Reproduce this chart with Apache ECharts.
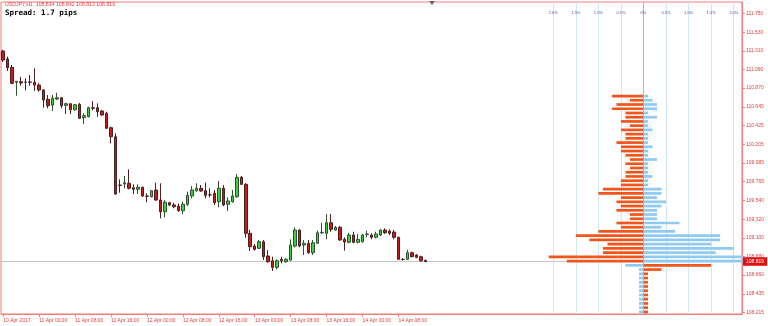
<!DOCTYPE html>
<html><head><meta charset="utf-8">
<script src="https://cdn.jsdelivr.net/npm/echarts@6/dist/echarts.min.js"></script>
<style>html,body{margin:0;padding:0;background:#fff}#c{width:768px;height:326px}</style>
</head><body><div id="c"></div>
<script>
// ---- data ----
const symbolTitle = 'USDJPY,H1  108.834 108.842 108.813 108.819';
const spreadText = 'Spread: 1.7 pips';
const currentPrice = 108.819;
const startTime = {day: 10, hour: 16};
const candleCount = 95;
const blankSlots = 70;
const timeTickLabels = ['10 Apr 2017','11 Apr 00:00','11 Apr 08:00','11 Apr 16:00','12 Apr 00:00','12 Apr 08:00','12 Apr 16:00','13 Apr 00:00','13 Apr 08:00','13 Apr 16:00','14 Apr 00:00','14 Apr 08:00'];
const priceTickLabels = ['111.750','111.530','111.310','111.090','110.870','110.645','110.425','110.205','109.985','109.765','109.540','109.320','109.100','108.880','108.660','108.435','108.215'];
const open = [111.307,111.212,111.114,110.937,110.944,110.941,110.941,110.937,110.905,110.846,110.736,110.669,110.740,110.755,110.665,110.684,110.613,110.677,110.519,110.531,110.637,110.637,110.598,110.571,110.401,110.294,109.724,109.736,109.744,109.692,109.673,109.697,109.594,109.585,109.665,109.547,109.408,109.515,109.488,109.476,109.420,109.496,109.594,109.656,109.685,109.656,109.609,109.626,109.527,109.685,109.496,109.527,109.585,109.815,109.732,109.153,109.003,108.976,109.054,108.885,108.829,108.751,108.846,108.818,108.838,109.003,109.192,109.015,109.035,108.924,109.035,109.160,109.153,109.278,109.192,109.224,109.082,109.047,109.133,109.047,109.054,109.141,109.133,109.106,109.133,109.192,109.180,109.168,109.106,108.846,108.846,108.924,108.897,108.877,108.834];
const high = [111.322,111.240,111.142,110.953,111.003,110.984,111.023,111.102,110.925,110.854,110.787,110.787,110.814,110.758,110.696,110.693,110.681,110.693,110.571,110.649,110.716,110.689,110.610,110.590,110.413,110.335,109.791,109.830,109.909,109.732,109.732,109.704,109.626,109.665,109.751,109.744,109.547,109.527,109.515,109.507,109.527,109.645,109.712,109.744,109.724,109.751,109.685,109.665,109.771,109.724,109.578,109.665,109.854,109.830,109.747,109.192,109.027,109.074,109.074,108.956,108.877,108.846,108.877,108.858,109.082,109.224,109.200,109.074,109.074,109.074,109.184,109.278,109.381,109.381,109.239,109.239,109.106,109.160,109.172,109.145,109.145,109.184,109.153,109.172,109.200,109.212,109.200,109.192,109.113,108.861,108.956,108.936,108.908,108.889,108.842];
const low = [111.177,111.071,110.914,110.779,110.897,110.843,110.897,110.834,110.826,110.637,110.630,110.598,110.728,110.630,110.563,110.559,110.602,110.503,110.444,110.524,110.606,110.531,110.543,110.385,110.216,109.609,109.633,109.685,109.673,109.617,109.617,109.582,109.519,109.578,109.535,109.330,109.342,109.476,109.449,109.408,109.378,109.476,109.567,109.645,109.645,109.567,109.578,109.488,109.460,109.476,109.416,109.515,109.574,109.724,109.101,108.944,108.948,108.968,108.838,108.806,108.708,108.728,108.799,108.806,108.829,108.988,108.988,108.897,108.908,108.897,109.027,109.145,109.082,109.172,109.184,109.066,108.948,109.035,109.035,109.035,109.042,109.106,109.082,109.094,109.121,109.145,109.133,109.082,108.838,108.832,108.838,108.870,108.858,108.818,108.813];
const close = [111.201,111.110,110.925,110.949,110.929,110.939,110.937,110.905,110.846,110.728,110.661,110.748,110.755,110.661,110.684,110.613,110.672,110.512,110.543,110.637,110.630,110.590,110.551,110.394,110.294,109.617,109.718,109.751,109.685,109.673,109.697,109.594,109.590,109.656,109.547,109.408,109.519,109.488,109.467,109.420,109.496,109.602,109.665,109.685,109.653,109.602,109.607,109.515,109.685,109.488,109.535,109.594,109.815,109.732,109.153,108.995,108.964,109.054,108.877,108.818,108.751,108.829,108.829,108.846,109.015,109.192,109.003,109.035,108.924,109.042,109.160,109.165,109.278,109.200,109.224,109.074,109.050,109.133,109.047,109.082,109.133,109.145,109.106,109.145,109.192,109.160,109.153,109.106,108.846,108.844,108.924,108.877,108.870,108.829,108.819];
// order-book style histogram (percent), one row per price level
const levels = [110.775,110.725,110.675,110.625,110.575,110.525,110.475,110.425,110.375,110.325,110.275,110.225,110.175,110.125,110.075,110.025,109.975,109.925,109.875,109.825,109.775,109.725,109.675,109.625,109.575,109.525,109.475,109.425,109.375,109.325,109.275,109.225,109.175,109.125,109.075,109.025,108.975,108.925,108.875,108.825,108.775,108.725,108.675,108.625,108.575,108.525,108.475,108.425,108.375,108.325,108.275,108.225];
const orangePct = [-0.7,-0.3,-0.6,-0.7,-0.4,-0.4,-0.5,-0.3,-0.5,-0.4,-0.4,-0.6,-0.5,-0.5,-0.4,-0.3,-0.4,-0.3,-0.4,-0.4,-0.5,-0.5,-0.9,-1.0,-0.5,-0.6,-0.5,-0.6,-0.3,-0.3,-0.6,-0.5,-1.0,-1.5,-1.2,-0.8,-0.9,-0.9,-2.1,-1.7,1.5,0.4,0.1,0.1,0.1,0.1,0.1,0.1,0.1,0.1,0.1,0.1];
const bluePct = [0.1,0.2,0.3,0.3,0.1,0.3,0.1,0.1,0.2,0.1,0.1,0.1,0.2,0.1,0.1,0.3,0.1,0.1,0.1,0.2,0.1,0.1,0.4,0.4,0.3,0.5,0.4,0.3,0.3,0.3,0.8,0.4,0.7,1.7,1.7,1.5,2.0,1.6,2.2,2.2,-0.4,-0.1,-0.1,-0.1,-0.1,-0.1,-0.1,-0.1,-0.1,-0.1,-0.1,-0.1];

// ---- build ----
const months = 'Apr';
const categories = [];
for (let i = 0; i < candleCount + blankSlots; i++) {
  if (i < candleCount) {
    const h = startTime.hour + i;
    const d = startTime.day + Math.floor(h / 24);
    const hh = h % 24;
    categories.push(d + ' ' + months + ' ' + (hh < 10 ? '0' : '') + hh + ':00');
  } else categories.push('');
}
const candleData = open.map((o, i) => [o, close[i], low[i], high[i]]);
const RED = '#e23c3c';
const FRAME = '#f07c7c';
const showTime = (idx) => idx % 8 === 0 && idx < candleCount;

function hBar(params, api) {
  const v = api.value(0), p = api.value(1);
  const a = api.coord([0, p]);
  const b = api.coord([v, p]);
  const h = api.size([0, 0.05])[1] * 0.64;
  return {type: 'rect', shape: {x: Math.min(a[0], b[0]), y: a[1] - h / 2, width: Math.abs(b[0] - a[0]), height: h},
    style: {fill: api.visual('color')}};
}

const yMin = 108.200, yMax = 111.886;
const chart = echarts.init(document.getElementById('c'), null, {renderer: 'canvas'});
chart.setOption({
  animation: false,
  backgroundColor: '#ffffff',
  grid: [
    {left: 1, top: 2, right: 26, bottom: 12, show: true, borderColor: FRAME, borderWidth: 1, backgroundColor: 'transparent'},
    {left: 553.3, top: 2, right: 34.3, bottom: 12, show: false}
  ],
  xAxis: [
    {type: 'category', gridIndex: 0, data: categories, boundaryGap: true,
      axisLine: {show: true, lineStyle: {color: FRAME}},
      axisTick: {show: true, alignWithLabel: true, interval: showTime, length: 3, lineStyle: {color: FRAME}},
      axisLabel: {show: true, interval: showTime, align: 'left', fontSize: 5, color: RED, margin: 4,
        fontFamily: 'Liberation Sans',
        formatter: (v, idx) => timeTickLabels[idx / 8] || ''},
      splitLine: {show: false}},
    {type: 'value', gridIndex: 1, min: -2, max: 2, interval: 0.5, position: 'top',
      axisLine: {show: false}, axisTick: {show: false},
      axisLabel: {show: true, inside: true, fontSize: 4, color: '#4a4aa8', margin: 9, fontFamily: 'Liberation Sans',
        formatter: v => v === 0 ? '0%' : Math.abs(v).toFixed(1) + '%'},
      splitLine: {show: true, lineStyle: {width: 1, color: ['#d3e6f0','#d3e6f0','#d3e6f0','#d3e6f0','#b4b4b4','#d3e6f0','#d3e6f0','#d3e6f0','#d3e6f0']}}}
  ],
  yAxis: [
    {type: 'value', gridIndex: 0, position: 'right', min: yMin, max: yMax, scale: true,
      axisLine: {show: true, lineStyle: {color: FRAME}},
      axisTick: {show: true, length: 3, lineStyle: {color: FRAME}, customValues: priceTickLabels.map(Number)},
      axisLabel: {show: true, fontSize: 5, color: RED, margin: 4, fontFamily: 'Liberation Sans',
        customValues: priceTickLabels.map(Number), formatter: v => v.toFixed(3)},
      splitLine: {show: false}},
    {type: 'value', gridIndex: 1, min: yMin, max: yMax, show: false, splitLine: {show: false}}
  ],
  series: [
    {type: 'custom', xAxisIndex: 1, yAxisIndex: 1, clip: false, silent: true, z: 2,
      itemStyle: {color: '#f0561c'}, encode: {x: 0, y: 1},
      data: orangePct.map((v, i) => [v, levels[i]]), renderItem: hBar},
    {type: 'custom', xAxisIndex: 1, yAxisIndex: 1, clip: false, silent: true, z: 2,
      itemStyle: {color: '#8fcaf2'}, encode: {x: 0, y: 1},
      data: bluePct.map((v, i) => [v, levels[i]]), renderItem: hBar},
    {type: 'candlestick', xAxisIndex: 0, yAxisIndex: 0, barWidth: 3, z: 3,
      itemStyle: {color: '#3ad23a', color0: '#c81a1a', borderColor: '#2f4f2f', borderColor0: '#4a2020', borderWidth: 1},
      data: candleData,
      markLine: {silent: true, symbol: ['none', 'none'], z: 1,
        lineStyle: {color: '#c6c6c6', type: 'solid', width: 1},
        label: {show: true, position: 'end', distance: 1, formatter: currentPrice.toFixed(3), fontSize: 5,
          color: '#ffffff', backgroundColor: '#e01010', padding: [2, 3, 1.5, 3], fontFamily: 'Liberation Sans'},
        emphasis: {disabled: true},
        data: [{yAxis: currentPrice}]}}
  ],
  graphic: [
    {type: 'text', left: 5, top: 2.5, silent: true,
      style: {text: symbolTitle, fill: RED, font: '5.2px "Liberation Sans"'}},
    {type: 'text', left: 5, top: 9, silent: true,
      style: {text: spreadText, fill: '#000', font: 'bold 7.5px "DejaVu Sans Mono"'}},
    {type: 'polygon', silent: true, shape: {points: [[429, 1], [435, 1], [432, 5]]}, style: {fill: '#666'}}
  ]
});
</script>
</body></html>
